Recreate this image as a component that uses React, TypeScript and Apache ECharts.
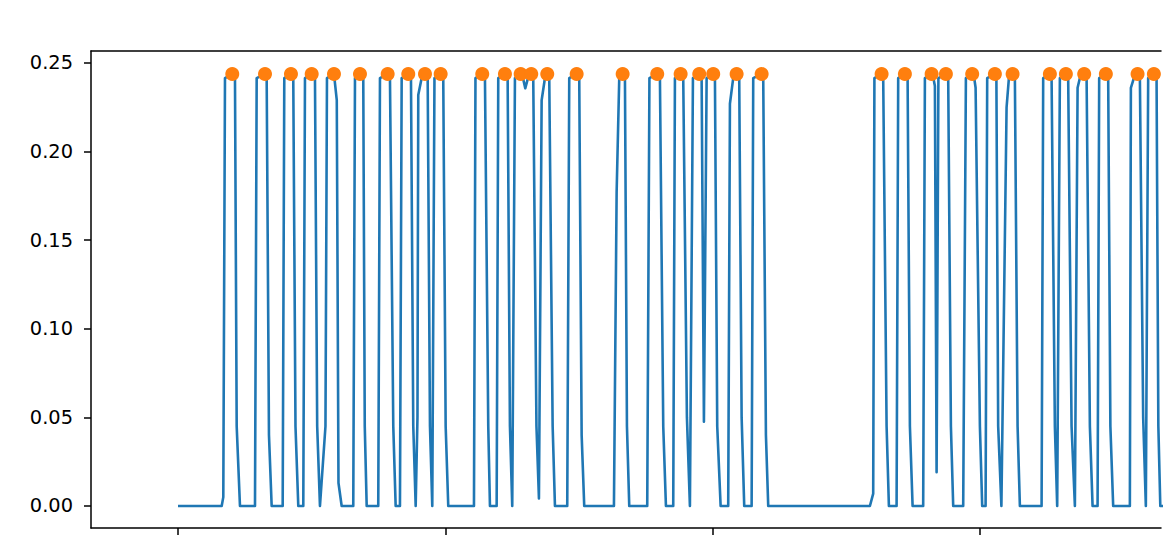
import React, { useEffect, useRef } from "react";
import * as echarts from "echarts";

// Signal vertices (sample index, value)
const signalX: number[] = [
  0, 16.35, 16.95, 17.58, 20.31, 21.32, 21.96, 23.19,
  28.81, 29.44, 32.55, 33.18, 34.04, 35.05,
  39.17, 39.77, 42.27, 43.13, 43.96, 45.01,
  46.88, 47.51, 50.02, 51.25, 52.08, 53.12,
  55.18, 55.74, 58.36, 59.41, 60.05, 61.24,
  65.58, 66.22, 68.09, 69.32, 69.88, 70.6,
  74.93, 75.57, 78.45, 79.31, 80.55, 81.44,
  83.05, 83.69, 86.16, 87.17, 88.03, 88.93,
  89.6, 89.9, 91.17, 92.41, 93.42, 94.28, 95.14,
  95.96, 98.28, 99.25, 100.15, 101.12,
  110.74, 111.3, 113.84, 114.85, 116.09, 116.72,
  119.23, 119.83, 122.33, 123.34, 124.2, 125.06,
  126.07, 128.21, 129.07, 129.93, 130.94, 132.17, 132.92, 134.12, 135.05,
  136.06, 137.3, 138.16, 138.91, 140.18, 141.04,
  145.64, 146.39, 149.16, 150.13, 151.03, 152.0,
  163.11, 164.12, 165.1, 166.37, 167.23, 167.98, 168.84,
  175.57, 176.39, 179.31, 180.32, 181.56, 182.57,
  185.3, 185.93, 188.07, 189.04, 190.42, 191.54,
  192.67, 195.03, 195.92, 196.78, 197.79, 200.26, 200.9, 201.76, 203.03,
  205.87, 206.51, 207.74, 209.01, 209.99, 210.89, 211.86,
  214.63, 215.23, 218.37, 218.97, 219.98, 220.84,
  258.88, 260.12, 260.57, 263.26, 263.86, 265.13, 265.99,
  268.87, 269.47, 271.98, 272.99, 273.85, 274.86,
  278.82, 279.46, 281.97, 282.64, 283.2, 283.84, 284.51, 287.32, 288.18, 289.19, 290.05,
  293.79, 294.8, 297.16, 297.91, 298.43, 300.04, 300.9,
  302.17, 302.77, 305.65, 306.21, 306.88, 308.08,
  310.02, 310.89, 312.27, 313.13, 314.14, 315.0,
  323.12, 323.72, 326.22, 326.86, 328.09, 328.96,
  329.96, 332.21, 333.07, 334.34, 335.58,
  336.59, 337.45, 339.06, 339.96, 341.19, 342.2,
  344.07, 344.67, 347.17, 348.04, 348.86, 349.91,
  356.15, 356.53, 357.65, 359.03, 359.9, 361.13, 362.13,
  363.0, 365.13, 366.14, 366.81, 367.54, 369.22,
];

const signalY: number[] = [
  0, 0, 0.005, 0.2415, 0.2438, 0.2415, 0.045, 0,
  0, 0.2415, 0.2438, 0.2415, 0.04, 0,
  0, 0.2415, 0.2438, 0.2415, 0.045, 0,
  0, 0.2415, 0.2438, 0.2415, 0.045, 0,
  0.045, 0.2415, 0.2438, 0.229, 0.013, 0,
  0, 0.2415, 0.2438, 0.2415, 0.045, 0,
  0, 0.2415, 0.2438, 0.2415, 0.045, 0,
  0, 0.2415, 0.2438, 0.2415, 0.045, 0,
  0.05, 0.232, 0.2415, 0.2438, 0.2415, 0.045, 0,
  0.2415, 0.2438, 0.2415, 0.045, 0,
  0, 0.2415, 0.2438, 0.2415, 0.045, 0,
  0, 0.2415, 0.2438, 0.2415, 0.045, 0,
  0.2415, 0.2438, 0.2415, 0.2357, 0.2415, 0.2438, 0.2415, 0.045, 0.0043,
  0.229, 0.2415, 0.2438, 0.2415, 0.045, 0,
  0, 0.2415, 0.2438, 0.2415, 0.04, 0,
  0, 0.177, 0.2415, 0.2438, 0.2415, 0.045, 0,
  0, 0.2415, 0.2438, 0.2415, 0.045, 0,
  0, 0.2415, 0.2438, 0.2415, 0.05, 0,
  0.2415, 0.2438, 0.2415, 0.0476, 0.2415, 0.2438, 0.2415, 0.045, 0,
  0, 0.227, 0.2415, 0.2438, 0.2415, 0.05, 0,
  0, 0.2415, 0.2438, 0.2415, 0.04, 0,
  0, 0.007, 0.2415, 0.2438, 0.2415, 0.045, 0,
  0, 0.2415, 0.2438, 0.2415, 0.045, 0,
  0, 0.2415, 0.2438, 0.2415, 0.237, 0.019, 0.2415, 0.2438, 0.2415, 0.045, 0,
  0, 0.2415, 0.2438, 0.2415, 0.236, 0.045, 0,
  0, 0.2415, 0.2438, 0.2415, 0.045, 0,
  0.225, 0.2415, 0.2438, 0.2415, 0.045, 0,
  0, 0.2415, 0.2438, 0.2415, 0.045, 0,
  0.2415, 0.2438, 0.2415, 0.045, 0,
  0.236, 0.2415, 0.2438, 0.2415, 0.045, 0,
  0, 0.2415, 0.2438, 0.2415, 0.045, 0,
  0, 0.236, 0.2415, 0.2438, 0.2415, 0.05, 0,
  0.2415, 0.2438, 0.2415, 0.045, 0, 0,
];

// Detected peaks
const peakX: number[] = [
  20.31, 32.55, 42.27, 50.02, 58.36, 68.09, 78.45, 86.16, 92.41, 98.28,
  113.84, 122.33, 128.21, 132.17, 138.16, 149.16, 166.37, 179.31, 188.07,
  195.03, 200.26, 209.01, 218.37, 263.26, 271.98, 281.97, 287.32, 297.16,
  305.65, 312.27, 326.22, 332.21, 339.06, 347.17, 359.03, 365.13,
];
const peakY: number[] = [
  0.2438, 0.2438, 0.2438, 0.2438, 0.2438, 0.2438, 0.2438, 0.2438, 0.2438, 0.2438,
  0.2438, 0.2438, 0.2438, 0.2438, 0.2438, 0.2438, 0.2438, 0.2438, 0.2438,
  0.2438, 0.2438, 0.2438, 0.2438, 0.2438, 0.2438, 0.2438, 0.2438, 0.2438,
  0.2438, 0.2438, 0.2438, 0.2438, 0.2438, 0.2438, 0.2438, 0.2438,
];

const xTicks: number[] = [0, 100, 200, 300];
const yTicks: number[] = [0, 0.05, 0.1, 0.15, 0.2, 0.25];

const X_MIN = -32.55;
const X_MAX = 367.8;
const Y_MIN = -0.01242;
const Y_MAX = 0.25677;

export default function App() {
  const ref = useRef<HTMLDivElement>(null);

  useEffect(() => {
    if (!ref.current) return;
    const chart = echarts.init(ref.current, undefined, { renderer: "svg" });
    const lineData = signalX.map((x, i) => [x, signalY[i]]);
    const peakData = peakX.map((x, i) => [x, peakY[i]]);
    const axisLine = {
      show: true,
      onZero: false,
      lineStyle: { color: "#000", width: 1.5 },
    };
    chart.setOption({
      animation: false,
      backgroundColor: "#fff",
      grid: { left: 91, top: 51, right: 13, bottom: 16, containLabel: false },
      xAxis: [
        {
          type: "value",
          min: X_MIN,
          max: X_MAX,
          position: "bottom",
          axisLine,
          axisTick: {
            show: true,
            length: 7,
            customValues: xTicks,
            lineStyle: { color: "#000", width: 1.5 },
          },
          axisLabel: { show: false },
          splitLine: { show: false },
        },
        {
          type: "value",
          min: X_MIN,
          max: X_MAX,
          position: "top",
          axisLine,
          axisTick: { show: false },
          axisLabel: { show: false },
          splitLine: { show: false },
        },
      ],
      yAxis: {
        type: "value",
        min: Y_MIN,
        max: Y_MAX,
        position: "left",
        axisLine,
        axisTick: {
          show: true,
          length: 7,
          customValues: yTicks,
          lineStyle: { color: "#000", width: 1.5 },
        },
        axisLabel: {
          show: true,
          customValues: yTicks,
          formatter: (v: number) => v.toFixed(2),
          color: "#000",
          fontSize: 19.4,
          fontFamily: "DejaVu Sans",
          margin: 18,
        },
        splitLine: { show: false },
      },
      series: [
        {
          type: "line",
          xAxisIndex: 0,
          data: lineData,
          showSymbol: false,
          symbol: "none",
          lineStyle: { color: "#1f77b4", width: 2.6, join: "round", cap: "butt" },
          clip: true,
          z: 2,
        },
        {
          type: "scatter",
          xAxisIndex: 0,
          data: peakData,
          symbol: "circle",
          symbolSize: 14,
          itemStyle: { color: "#ff7f0e", opacity: 1 },
          z: 3,
        },
      ],
    });
    return () => chart.dispose();
  }, []);

  return (
    <div
      ref={ref}
      style={{ position: "absolute", left: 0, top: 0, width: 1174, height: 544 }}
    />
  );
}
